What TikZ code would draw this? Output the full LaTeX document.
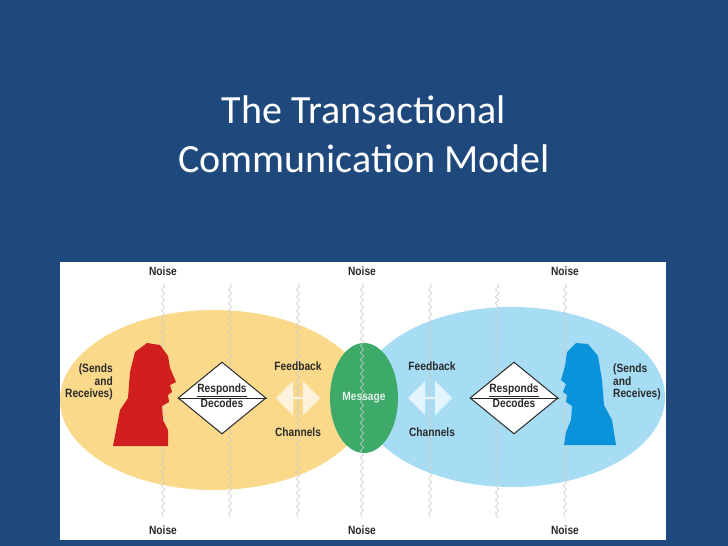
\documentclass[tikz,border=0pt]{standalone}
\usepackage{fontspec}
\setmainfont{Carlito}
\newfontfamily\lblfont[FakeStretch=0.85]{Liberation Sans}
\usetikzlibrary{decorations.pathmorphing,shapes.geometric,shapes.arrows}
\definecolor{bg}{HTML}{1F497D}
\definecolor{ylw}{HTML}{FAD98A}
\definecolor{blu}{HTML}{A6DDF5}
\definecolor{grn}{HTML}{3DAA6A}
\definecolor{redh}{HTML}{D11F1F}
\definecolor{bluh}{HTML}{0A92DA}
\definecolor{txt}{HTML}{2A2A2A}
\tikzset{
 lbl/.style={font=\lblfont\bfseries\fontsize{12}{12.5}\selectfont, text=txt, inner sep=0pt},
 noise/.style={draw=gray!40, line width=0.6pt, decorate, decoration={snake, amplitude=1.6pt, segment length=7pt}},
 dia/.style={diamond, draw=txt, line width=1pt, fill=white, minimum width=88pt, minimum height=72pt, aspect=1.2, inner sep=0pt},
 dbl/.style={double arrow, fill=white, draw=none, minimum width=34pt, minimum height=44pt, double arrow head extend=3pt, inner sep=0pt, opacity=0.7}
}
\begin{document}
\begin{tikzpicture}[x=1pt,y=-1pt]
\fill[bg] (0,0) rectangle (728,546);
\useasboundingbox (0,0) rectangle (728,546);
\node[text=white, font=\fontsize{40}{49}\selectfont, align=center] (title) at (364,134) {The Transactional\\Communication Model};
\fill[white] (60,262) rectangle (666,540);
\fill[ylw] (214,400) ellipse [x radius=154, y radius=90];
\fill[blu] (512,397) ellipse [x radius=153, y radius=90];
\fill[grn] (364,398) ellipse [x radius=34, y radius=55];
% noise lines
\foreach \x in {163,230,298,362,430,497,565} {
  \draw[noise] (\x,284) -- (\x,518);
}
% red head (facing right)
\fill[redh] (113,446) -- (120,410) -- (128,398) -- (130,372) -- (135,352) -- (147,343) -- (160,345) -- (168,356) -- (170,368) -- (176,382) -- (170,385) -- (172,392) -- (168,395) -- (169,402) -- (162,406) -- (163,420) -- (168,430) -- (168,446) -- cycle;
% blue head (facing left)
\fill[bluh] (616,445) -- (612,420) -- (604,405) -- (602,380) -- (598,356) -- (588,344) -- (576,343) -- (567,352) -- (565,366) -- (561,380) -- (566,384) -- (563,392) -- (567,395) -- (566,402) -- (572,406) -- (571,420) -- (566,432) -- (564,445) -- cycle;
% diamonds
\node[dia] (dl) at (222,398) {};
\draw[txt, line width=0.8pt] (dl.west) -- (dl.east);
\node[lbl, above=1pt] at (dl.center) {\underline{Responds}};
\node[lbl, below=1pt] at (dl.center) {Decodes};
\node[dia] (dr) at (514,398) {};
\draw[txt, line width=0.8pt] (dr.west) -- (dr.east);
\node[lbl, above=1pt] at (dr.center) {\underline{Responds}};
\node[lbl, below=1pt] at (dr.center) {Decodes};
% double arrows
\node[dbl] (al) at (298,398) {};
\node[dbl] (ar) at (430,398) {};
% message
\node[lbl, text=white!85!grn] (msg) at (364,398) {Message};
% labels
\node[lbl] (fbl) at (298,366) {Feedback};
\node[lbl] (chl) at (298,432) {Channels};
\node[lbl] (fbr) at (432,366) {Feedback};
\node[lbl] (chr) at (432,432) {Channels};
\node[lbl, align=right] (sl) at (89,382) {(Sends\\and\\Receives)};
\node[lbl, align=left] (sr) at (637,382) {(Sends\\and\\Receives)};
\foreach \x/\n in {163/a,362/b,565/c} {
  \node[lbl] (nt\n) at (\x,271) {Noise};
  \node[lbl] (nb\n) at (\x,530) {Noise};
}
\end{tikzpicture}
\end{document}
